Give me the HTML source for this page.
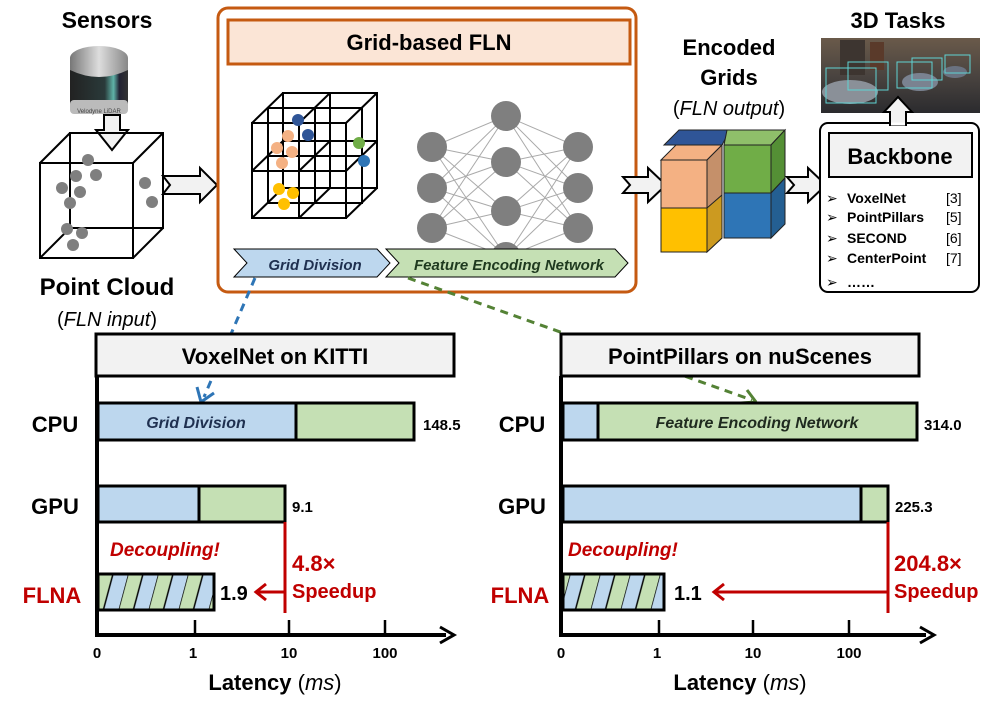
<!DOCTYPE html>
<html><head><meta charset="utf-8"><style>
html,body{margin:0;padding:0;background:#fff;}
svg{display:block;}
text{font-family:"Liberation Sans",sans-serif;}
</style></head><body>
<svg width="1000" height="707" viewBox="0 0 1000 707" xmlns="http://www.w3.org/2000/svg">
<defs>
<linearGradient id="lid" x1="0" x2="1"><stop offset="0" stop-color="#777"/><stop offset="0.5" stop-color="#ddd"/><stop offset="1" stop-color="#888"/></linearGradient>
<linearGradient id="band" x1="0" x2="1"><stop offset="0" stop-color="#222"/><stop offset="0.6" stop-color="#2a3a3a"/><stop offset="0.75" stop-color="#5fb3a8"/><stop offset="0.85" stop-color="#223"/><stop offset="1" stop-color="#333"/></linearGradient>
<linearGradient id="street" x1="0" y1="0" x2="0" y2="1"><stop offset="0" stop-color="#6a5a4a"/><stop offset="0.5" stop-color="#4a4440"/><stop offset="1" stop-color="#2b2b2e"/></linearGradient>
<pattern id="hatch" width="30" height="36" patternUnits="userSpaceOnUse" patternTransform="translate(98 574) skewX(-15)">
<rect width="15" height="36" fill="#c5e0b4"/><rect x="15" width="15" height="36" fill="#bdd7ee"/><line x1="0" y1="0" x2="0" y2="36" stroke="#000" stroke-width="1.5"/><line x1="15" y1="0" x2="15" y2="36" stroke="#000" stroke-width="1.5"/>
</pattern>
<pattern id="hatch2" width="30" height="36" patternUnits="userSpaceOnUse" patternTransform="translate(570 574) skewX(-15)">
<rect width="15" height="36" fill="#bdd7ee"/><rect x="15" width="15" height="36" fill="#c5e0b4"/><line x1="0" y1="0" x2="0" y2="36" stroke="#000" stroke-width="1.5"/><line x1="15" y1="0" x2="15" y2="36" stroke="#000" stroke-width="1.5"/>
</pattern>
</defs>

<!-- Sensors -->
<text x="107" y="28" font-size="23" font-weight="bold" text-anchor="middle">Sensors</text>
<rect x="70" y="58" width="58" height="48" fill="url(#band)"/>
<rect x="70" y="100" width="58" height="14" rx="4" fill="#bbb"/>
<ellipse cx="99" cy="58" rx="29" ry="12" fill="url(#lid)"/>
<path d="M70 58 V70 Q99 84 128 70 V58" fill="url(#lid)"/>
<text x="99" y="113" font-size="6" fill="#444" text-anchor="middle">Velodyne LiDAR</text>
<path d="M104 115 H120 V130 H128 L112 150 L96 130 H104 Z" fill="#f2f2f2" stroke="#000" stroke-width="2"/>

<!-- Point cloud cube -->
<g fill="none" stroke="#000" stroke-width="2">
<rect x="70" y="133" width="93" height="95"/>
<line x1="40" y1="163" x2="70" y2="133"/><line x1="133" y1="163" x2="163" y2="133"/>
<line x1="40" y1="258" x2="70" y2="228"/><line x1="133" y1="258" x2="163" y2="228"/>
<rect x="40" y="163" width="93" height="95"/>
</g>
<g fill="#7f7f7f">
<circle cx="88" cy="160" r="6"/><circle cx="76" cy="176" r="6"/><circle cx="96" cy="175" r="6"/><circle cx="62" cy="188" r="6"/><circle cx="80" cy="192" r="6"/><circle cx="70" cy="203" r="6"/><circle cx="145" cy="183" r="6"/><circle cx="152" cy="202" r="6"/><circle cx="67" cy="229" r="6"/><circle cx="82" cy="233" r="6"/><circle cx="73" cy="245" r="6"/>
</g>
<path d="M163 176 H200 V168 L217 185 L200 202 V194 H163 L170 185 Z" fill="#f2f2f2" stroke="#000" stroke-width="2"/>
<text x="107" y="295" font-size="24" font-weight="bold" text-anchor="middle">Point Cloud</text>
<text x="107" y="326" font-size="20" text-anchor="middle">(<tspan font-style="italic">FLN input</tspan>)</text>

<!-- Orange FLN box -->
<rect x="218" y="8" width="418" height="284" rx="10" fill="none" stroke="#c55a11" stroke-width="3"/>
<rect x="228" y="20" width="402" height="44" fill="#fbe5d6" stroke="#c55a11" stroke-width="3"/>
<text x="429" y="50" font-size="22" font-weight="bold" text-anchor="middle">Grid-based FLN</text>

<!-- grid cube -->
<g fill="none" stroke="#000" stroke-width="2">
<rect x="283" y="93" width="94" height="95"/>
<rect x="268" y="108" width="94" height="95"/>
<line x1="330" y1="93" x2="330" y2="188"/><line x1="283" y1="141" x2="377" y2="141"/>
<line x1="315" y1="108" x2="315" y2="203"/><line x1="268" y1="156" x2="362" y2="156"/>
<line x1="252" y1="123" x2="283" y2="93"/><line x1="346" y1="123" x2="377" y2="93"/><line x1="299" y1="123" x2="330" y2="93"/>
<line x1="252" y1="218" x2="283" y2="188"/><line x1="346" y1="218" x2="377" y2="188"/><line x1="299" y1="218" x2="330" y2="188"/>
<line x1="252" y1="171" x2="283" y2="141"/><line x1="346" y1="171" x2="377" y2="141"/><line x1="299" y1="171" x2="330" y2="141"/>
<rect x="252" y="123" width="94" height="95"/>
<line x1="299" y1="123" x2="299" y2="218"/><line x1="252" y1="171" x2="346" y2="171"/>
</g>
<circle cx="298" cy="120" r="6" fill="#2f5597"/><circle cx="308" cy="135" r="6" fill="#2f5597"/>
<circle cx="288" cy="136" r="6" fill="#f4b183"/><circle cx="277" cy="148" r="6" fill="#f4b183"/><circle cx="292" cy="152" r="6" fill="#f4b183"/><circle cx="282" cy="163" r="6" fill="#f4b183"/>
<circle cx="359" cy="143" r="6" fill="#70ad47"/><circle cx="364" cy="161" r="6" fill="#2e75b6"/>
<circle cx="279" cy="189" r="6" fill="#ffc000"/><circle cx="293" cy="193" r="6" fill="#ffc000"/><circle cx="284" cy="204" r="6" fill="#ffc000"/>

<!-- neural net -->
<g stroke="#aaa" stroke-width="1">
<path d="M432 147 L506 116 M432 147 L506 162 M432 147 L506 211 M432 147 L506 257 M432 188 L506 116 M432 188 L506 162 M432 188 L506 211 M432 188 L506 257 M432 228 L506 116 M432 228 L506 162 M432 228 L506 211 M432 228 L506 257"/>
<path d="M578 147 L506 116 M578 147 L506 162 M578 147 L506 211 M578 147 L506 257 M578 188 L506 116 M578 188 L506 162 M578 188 L506 211 M578 188 L506 257 M578 228 L506 116 M578 228 L506 162 M578 228 L506 211 M578 228 L506 257"/>
</g>
<g fill="#7f7f7f">
<circle cx="432" cy="147" r="15"/><circle cx="432" cy="188" r="15"/><circle cx="432" cy="228" r="15"/>
<circle cx="506" cy="116" r="15"/><circle cx="506" cy="162" r="15"/><circle cx="506" cy="211" r="15"/><circle cx="506" cy="257" r="15"/>
<circle cx="578" cy="147" r="15"/><circle cx="578" cy="188" r="15"/><circle cx="578" cy="228" r="15"/>
</g>

<!-- chevrons -->
<path d="M234 249 H377 L390 263 L377 277 H234 L247 263 Z" fill="#bdd7ee" stroke="#000" stroke-width="1"/>
<text x="315" y="270" font-size="15" font-weight="bold" font-style="italic" text-anchor="middle" fill="#1f3050">Grid Division</text>
<path d="M386 249 H615 L628 263 L615 277 H386 L399 263 Z" fill="#c5e0b4" stroke="#000" stroke-width="1"/>
<text x="509" y="270" font-size="15" font-weight="bold" font-style="italic" text-anchor="middle" fill="#1f3a1f">Feature Encoding Network</text>

<!-- dashed connectors -->
<line x1="255" y1="278" x2="204" y2="397" stroke="#2e75b6" stroke-width="3" stroke-dasharray="8,6"/>
<path d="M201 402 L197 387 M201 402 L214 393" stroke="#2e75b6" stroke-width="3" fill="none"/>
<line x1="408" y1="278" x2="752" y2="400" stroke="#548235" stroke-width="3" stroke-dasharray="8,6"/>
<path d="M756 402 L741 403 M756 402 L747 390" stroke="#548235" stroke-width="3" fill="none"/>

<path d="M623 177 H648 V168 L666 185 L648 202 V193 H623 L630 185 Z" fill="#f2f2f2" stroke="#000" stroke-width="2"/>

<!-- Encoded grids -->
<text x="729" y="55" font-size="22" font-weight="bold" text-anchor="middle">Encoded</text>
<text x="729" y="85" font-size="22" font-weight="bold" text-anchor="middle">Grids</text>
<text x="729" y="115" font-size="20" text-anchor="middle">(<tspan font-style="italic">FLN output</tspan>)</text>
<g stroke="#222" stroke-width="1">
<polygon points="679,130 730,130 722,145 664,145" fill="#2f5597"/>
<polygon points="727,130 785,130 771,145 724,145" fill="#8fbf6a"/>
<polygon points="661,160 676,145 722,145 707,160" fill="#f4b183"/>
<polygon points="707,160 722,145 722,238 707,252" fill="#c5906a"/>
<rect x="661" y="160" width="46" height="48" fill="#f4b183"/>
<rect x="661" y="208" width="46" height="44" fill="#ffc000"/>
<polygon points="707,208 722,195 722,238 707,252" fill="#cc9a20"/>
<rect x="724" y="145" width="47" height="48" fill="#70ad47"/>
<polygon points="771,145 785,130 785,178 771,193" fill="#548f35"/>
<rect x="724" y="193" width="47" height="45" fill="#2e75b6"/>
<polygon points="771,193 785,178 785,224 771,238" fill="#245f92"/>
</g>
<path d="M787 177 H808 V168 L826 185 L808 202 V193 H787 L794 185 Z" fill="#f2f2f2" stroke="#000" stroke-width="2"/>

<!-- 3D tasks -->
<text x="898" y="28" font-size="22" font-weight="bold" text-anchor="middle">3D Tasks</text>
<rect x="821" y="38" width="159" height="75" fill="url(#street)"/>
<rect x="840" y="40" width="25" height="35" fill="#3d3530"/>
<rect x="870" y="42" width="14" height="28" fill="#5a3a2a"/>
<ellipse cx="850" cy="92" rx="28" ry="12" fill="#8a9098"/>
<ellipse cx="920" cy="82" rx="18" ry="9" fill="#7a8290"/>
<ellipse cx="955" cy="72" rx="12" ry="6" fill="#6a7280"/>
<g fill="none" stroke="#5fd3d3" stroke-width="1">
<rect x="826" y="68" width="50" height="35"/><rect x="848" y="62" width="40" height="28"/>
<rect x="897" y="62" width="35" height="26"/><rect x="912" y="58" width="30" height="22"/>
<rect x="945" y="55" width="25" height="18"/>
</g>

<!-- Backbone -->
<rect x="820" y="123" width="159" height="169" rx="8" fill="#fff" stroke="#000" stroke-width="2"/>
<path d="M890 125 V112 H884 L898 97 L912 112 H906 V125 Z" fill="#f2f2f2" stroke="#000" stroke-width="2"/>
<path d="M891 124 H905" stroke="#fff" stroke-width="3"/>
<rect x="829" y="133" width="143" height="44" fill="#f2f2f2" stroke="#000" stroke-width="2"/>
<text x="900" y="164" font-size="22" font-weight="bold" text-anchor="middle">Backbone</text>
<g font-size="14">
<text x="826" y="203">➢</text><text x="847" y="203" font-weight="bold">VoxelNet</text><text x="946" y="203">[3]</text>
<text x="826" y="222">➢</text><text x="847" y="222" font-weight="bold">PointPillars</text><text x="946" y="222">[5]</text>
<text x="826" y="243">➢</text><text x="847" y="243" font-weight="bold">SECOND</text><text x="946" y="243">[6]</text>
<text x="826" y="263">➢</text><text x="847" y="263" font-weight="bold">CenterPoint</text><text x="946" y="263">[7]</text>
<text x="826" y="287">➢</text><text x="847" y="287" font-weight="bold">……</text>
</g>

<!-- LEFT CHART -->
<rect x="96" y="334" width="358" height="42" fill="#f2f2f2" stroke="#000" stroke-width="3"/>
<text x="275" y="364" font-size="22" font-weight="bold" text-anchor="middle">VoxelNet on KITTI</text>
<line x1="97" y1="376" x2="97" y2="636" stroke="#000" stroke-width="4"/>
<line x1="95" y1="635" x2="446" y2="635" stroke="#000" stroke-width="4"/>
<path d="M440 627 L454 635 L440 643" fill="none" stroke="#000" stroke-width="3"/>
<g stroke="#000" stroke-width="2.5"><line x1="195" y1="620" x2="195" y2="635"/><line x1="289" y1="620" x2="289" y2="635"/><line x1="385" y1="620" x2="385" y2="635"/></g>
<g font-size="15" font-weight="bold" text-anchor="middle"><text x="97" y="658">0</text><text x="193" y="658">1</text><text x="289" y="658">10</text><text x="385" y="658">100</text></g>
<text x="275" y="690" font-size="22" font-weight="bold" text-anchor="middle">Latency <tspan font-weight="normal">(<tspan font-style="italic">ms</tspan>)</tspan></text>
<rect x="98" y="403" width="198" height="37" fill="#bdd7ee" stroke="#000" stroke-width="3"/>
<rect x="296" y="403" width="118" height="37" fill="#c5e0b4" stroke="#000" stroke-width="3"/>
<text x="196" y="428" font-size="16" font-weight="bold" font-style="italic" text-anchor="middle" fill="#1f3050">Grid Division</text>
<rect x="98" y="486" width="101" height="36" fill="#bdd7ee" stroke="#000" stroke-width="3"/>
<rect x="199" y="486" width="86" height="36" fill="#c5e0b4" stroke="#000" stroke-width="3"/>
<rect x="98" y="574" width="116" height="36" fill="url(#hatch)" stroke="#000" stroke-width="3"/>
<g font-weight="bold"><text x="55" y="432" font-size="22" text-anchor="middle">CPU</text><text x="55" y="514" font-size="22" text-anchor="middle">GPU</text><text x="52" y="603" font-size="22" text-anchor="middle" fill="#c00000">FLNA</text></g>
<g font-size="15" font-weight="bold"><text x="423" y="430">148.5</text><text x="292" y="512">9.1</text><text x="220" y="600" font-size="20">1.9</text></g>
<line x1="285" y1="522" x2="285" y2="613" stroke="#c00000" stroke-width="3"/>
<line x1="285" y1="592" x2="258" y2="592" stroke="#c00000" stroke-width="3"/>
<path d="M266 584 L256 592 L266 600" fill="none" stroke="#c00000" stroke-width="3"/>
<text x="110" y="556" font-size="19" font-weight="bold" font-style="italic" fill="#c00000">Decoupling!</text>
<text x="292" y="571" font-size="22" font-weight="bold" fill="#c00000">4.8×</text>
<text x="292" y="598" font-size="20" font-weight="bold" fill="#c00000">Speedup</text>

<!-- RIGHT CHART -->
<rect x="561" y="334" width="358" height="42" fill="#f2f2f2" stroke="#000" stroke-width="3"/>
<text x="740" y="364" font-size="22" font-weight="bold" text-anchor="middle">PointPillars on nuScenes</text>
<line x1="561" y1="376" x2="561" y2="636" stroke="#000" stroke-width="4"/>
<line x1="559" y1="635" x2="926" y2="635" stroke="#000" stroke-width="4"/>
<path d="M920 627 L934 635 L920 643" fill="none" stroke="#000" stroke-width="3"/>
<g stroke="#000" stroke-width="2.5"><line x1="659" y1="620" x2="659" y2="635"/><line x1="753" y1="620" x2="753" y2="635"/><line x1="849" y1="620" x2="849" y2="635"/></g>
<g font-size="15" font-weight="bold" text-anchor="middle"><text x="561" y="658">0</text><text x="657" y="658">1</text><text x="753" y="658">10</text><text x="849" y="658">100</text></g>
<text x="740" y="690" font-size="22" font-weight="bold" text-anchor="middle">Latency <tspan font-weight="normal">(<tspan font-style="italic">ms</tspan>)</tspan></text>
<rect x="563" y="403" width="35" height="37" fill="#bdd7ee" stroke="#000" stroke-width="3"/>
<rect x="598" y="403" width="319" height="37" fill="#c5e0b4" stroke="#000" stroke-width="3"/>
<text x="757" y="428" font-size="16" font-weight="bold" font-style="italic" text-anchor="middle" fill="#1f2a1f">Feature Encoding Network</text>
<rect x="563" y="486" width="298" height="36" fill="#bdd7ee" stroke="#000" stroke-width="3"/>
<rect x="861" y="486" width="27" height="36" fill="#c5e0b4" stroke="#000" stroke-width="3"/>
<rect x="563" y="574" width="101" height="36" fill="url(#hatch2)" stroke="#000" stroke-width="3"/>
<g font-weight="bold"><text x="522" y="432" font-size="22" text-anchor="middle">CPU</text><text x="522" y="514" font-size="22" text-anchor="middle">GPU</text><text x="520" y="603" font-size="22" text-anchor="middle" fill="#c00000">FLNA</text></g>
<g font-size="15" font-weight="bold"><text x="924" y="430">314.0</text><text x="895" y="512">225.3</text><text x="674" y="600" font-size="20">1.1</text></g>
<line x1="888" y1="522" x2="888" y2="613" stroke="#c00000" stroke-width="3"/>
<line x1="888" y1="592" x2="715" y2="592" stroke="#c00000" stroke-width="3"/>
<path d="M724 584 L714 592 L724 600" fill="none" stroke="#c00000" stroke-width="3"/>
<text x="568" y="556" font-size="19" font-weight="bold" font-style="italic" fill="#c00000">Decoupling!</text>
<text x="894" y="571" font-size="22" font-weight="bold" fill="#c00000">204.8×</text>
<text x="894" y="598" font-size="20" font-weight="bold" fill="#c00000">Speedup</text>
</svg>
</body></html>
